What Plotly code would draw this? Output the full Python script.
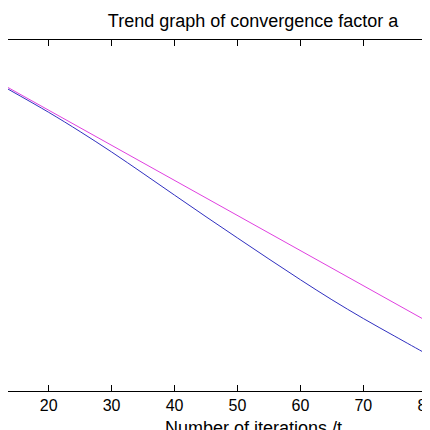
import plotly.graph_objects as go

t_vals = [13.5, 20, 25, 30, 35, 40, 45, 50, 55, 60, 65, 70, 75, 80, 82]
a_linear = [1.73, 1.60, 1.50, 1.40, 1.30, 1.20, 1.10, 1.00, 0.90, 0.80, 0.70, 0.60, 0.50, 0.40, 0.36]
a_nonlinear = [1.721, 1.588, 1.478, 1.362, 1.240, 1.116, 0.993, 0.872, 0.752, 0.634, 0.520, 0.413, 0.312, 0.212, 0.172]
x_ticks = [20, 30, 40, 50, 60, 70, 80]

fig = go.Figure()
fig.add_trace(go.Scatter(x=t_vals, y=a_linear, mode="lines", line=dict(color="#e040e0", width=1)))
fig.add_trace(go.Scatter(x=t_vals, y=a_nonlinear, mode="lines", line=dict(color="#3030c0", width=1), line_shape="spline"))

fig.update_layout(
    width=430, height=430, showlegend=False,
    paper_bgcolor="white", plot_bgcolor="white",
    margin=dict(l=0, r=0, t=32, b=47, autoexpand=False),
    font=dict(family="Liberation Sans Narrow, Liberation Sans, Arial", color="black", size=16),
    title=dict(text="Trend graph of convergence factor a", x=0.57, xanchor="center", y=0.97, yanchor="middle",
               font=dict(size=18)),
    annotations=[dict(text="Number of iterations /t", x=0.57, xref="paper", y=-0.07, yref="paper",
                      showarrow=False, yanchor="top", font=dict(size=18))],
)
fig.update_xaxes(range=[13.54, 81.86], tickvals=x_ticks, ticks="inside", ticklen=6, mirror="ticks",
                 showline=True, linecolor="black", linewidth=1, showgrid=False, zeroline=False,
                 tickcolor="black", automargin=False)
fig.update_yaxes(range=[0, 2], showticklabels=False, showgrid=False, zeroline=False, showline=False, ticks="",
                 automargin=False)
fig.write_html("out.html")
